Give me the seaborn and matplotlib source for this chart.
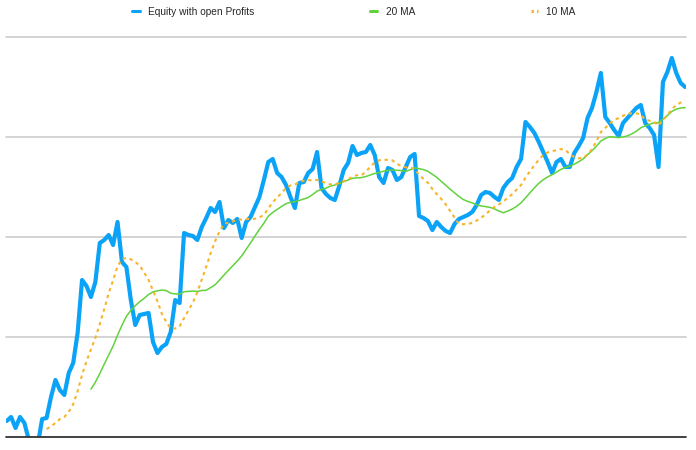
import matplotlib
matplotlib.use("Agg")
import matplotlib.pyplot as plt
import seaborn as sns
import pandas as pd

# equity curve (with open profits), one value per trade/bar
equity = [
    1600, 2000, 900, 2000, 1400, -300, -2500, -800, 1800, 1900,
    4000, 5700, 4700, 4200, 6400, 7400, 10400, 15700, 15100, 14000,
    15500, 19400, 19700, 20200, 19200, 21500, 17500, 17000, 13700, 11200,
    12200, 12300, 12400, 9500, 8400, 9000, 9300, 10500, 13700, 13400,
    20400, 20200, 20100, 19700, 21000, 21900, 22900, 22500, 23500, 20900,
    21700, 21400, 21800, 19900, 21500, 22000, 23000, 24000, 25700, 27500,
    27800, 26400, 26000, 25200, 24000, 22900, 25400, 25500, 26400, 26800,
    28500, 24900, 24300, 23900, 23700, 25100, 26700, 27400, 29100, 28200,
    28400, 28500, 29200, 28200, 26000, 25400, 26900, 26700, 25700, 26000,
    27000, 28000, 28300, 22100, 21900, 21600, 20700, 21500, 21000, 20600,
    20400, 21300, 21800, 22000, 22200, 22500, 23200, 24200, 24500, 24400,
    24000, 23700, 24900, 25500, 25900, 27000, 27800, 31500, 31000, 30400,
    29500, 28500, 27500, 26400, 27500, 27800, 27000, 27000, 28400, 29100,
    29900, 31900, 32900, 34500, 36400, 32000, 31400, 30700, 30100, 31400,
    31900, 32400, 32900, 33200, 31400, 30900, 30200, 27000, 35500, 36500,
    37900, 36400, 35400, 35000,
]
labels = ["Equity with open Profits", "20 MA", "10 MA"]
grid_levels = [10000, 20000, 30000, 40000]

df = pd.DataFrame({"bar": range(len(equity)), "equity": equity})
df["ma20"] = df["equity"].rolling(20).mean()
df["ma10"] = df["equity"].rolling(10).mean()

sns.set_style("white")
plt.rcParams["font.family"] = ["Liberation Sans", "DejaVu Sans"]

fig = plt.figure(figsize=(6.96, 4.5), dpi=100)
ax = fig.add_axes([6 / 696, 13 / 450, 680 / 696, 400 / 450])

for y in grid_levels:
    ax.axhline(y, color="#c8c8c8", lw=1.1, zorder=0, clip_on=False)
ax.axhline(0, color="#333333", lw=1.3, zorder=5, clip_on=False)

sns.lineplot(data=df, x="bar", y="equity", ax=ax, color="#0ba3f7", lw=3.0,
             label=labels[0], estimator=None, zorder=3)
sns.lineplot(data=df, x="bar", y="ma20", ax=ax, color="#62d23c", lw=1.1,
             label=labels[1], estimator=None, zorder=4)
sns.lineplot(data=df, x="bar", y="ma10", ax=ax, color="#f6b52a", lw=1.5,
             linestyle=(0, (1.6, 1.8)), label=labels[2], estimator=None, zorder=4)

ax.set_xlim(-0.15, len(equity) - 0.8)
ax.set_ylim(0, 40000)
ax.set_xticks([])
ax.set_yticks([])
ax.set_xlabel("")
ax.set_ylabel("")
sns.despine(ax=ax, left=True, bottom=True)

leg = ax.legend(loc="center", bbox_to_anchor=(354 / 696, 1 - 12 / 450),
                bbox_transform=fig.transFigure, ncol=3, frameon=False,
                fontsize=7.3, handlelength=0.75, handletextpad=0.8,
                columnspacing=11.4, borderpad=0)
# legend keys are short, equally thick stubs in the original
for h in leg.get_lines():
    h.set_linewidth(2.2)
leg.get_lines()[2].set_linestyle((0, (0.8, 1.0)))

plt.savefig("out.png", dpi=100)
plt.close()
